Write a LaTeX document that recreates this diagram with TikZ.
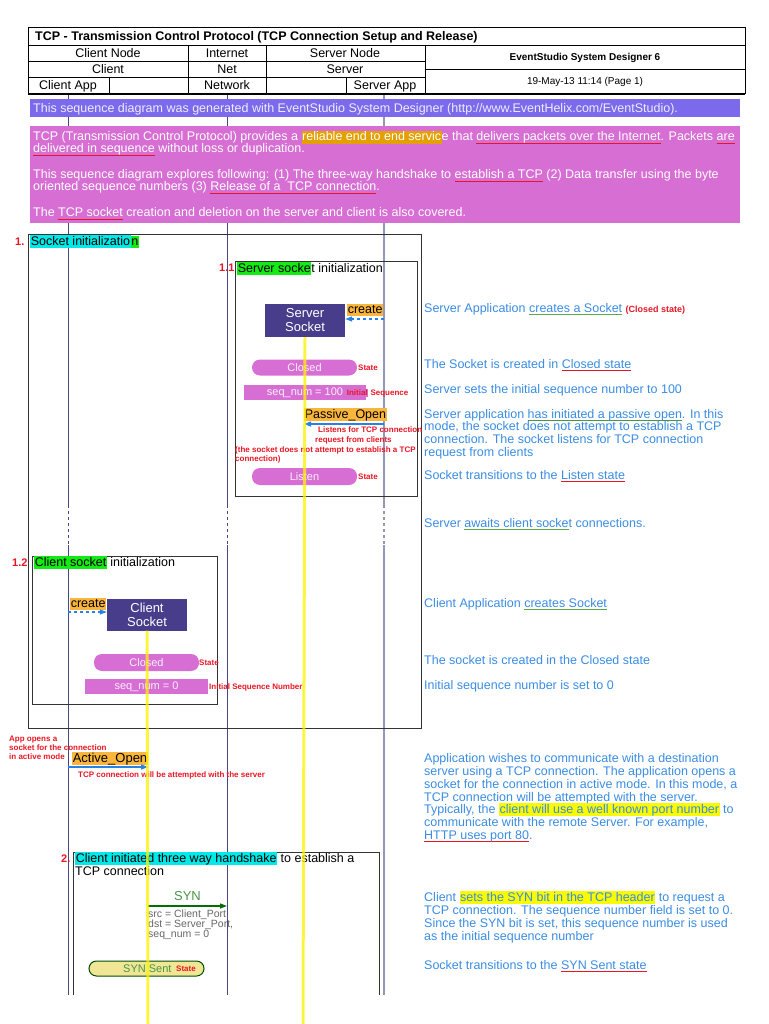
\documentclass[tikz,border=0pt]{standalone}
\usepackage{fontspec}
\setmainfont{Liberation Sans}
\usetikzlibrary{arrows.meta}
\definecolor{lane}{RGB}{70,70,130}
\definecolor{lanes}{RGB}{150,150,185}
\definecolor{band}{RGB}{123,106,236}
\definecolor{orch}{RGB}{215,110,212}
\definecolor{dslate}{RGB}{72,61,139}
\definecolor{tblue}{RGB}{58,140,228}
\definecolor{hor}{RGB}{250,182,60}
\definecolor{hor2}{RGB}{228,160,0}
\definecolor{hcy}{RGB}{0,232,232}
\definecolor{hgr}{RGB}{20,235,20}
\definecolor{hye}{RGB}{250,250,0}
\definecolor{rd}{RGB}{232,22,36}
\definecolor{ugr}{RGB}{90,170,70}
\definecolor{sgreen}{RGB}{0,110,0}
\definecolor{lgreen}{RGB}{70,150,70}
\definecolor{khaki}{RGB}{240,230,150}
\definecolor{abl}{RGB}{40,130,230}
\newcommand\hl[2]{{\setlength\fboxsep{0.6pt}\colorbox{#1}{\vphantom{Ag}#2}}}
\newcommand\ul[2]{\setbox0\hbox{#2}\rlap{\color{#1}\rule[-3pt]{\wd0}{1.4pt}}\box0\relax}
\newcommand\tl[5][txt]{\node[#1] (#2) at (#3,#4) {#5};}
\begin{document}
\begin{tikzpicture}[x=1pt,y=-1pt,
  every node/.style={inner sep=0pt,font=\fontsize{12.5}{14}\selectfont},
  txt/.style={anchor=base west},
  btxt/.style={anchor=base west,text=tblue},
  wtxt/.style={anchor=base west,text=white},
  rtxt/.style={anchor=base west,text=rd,font=\bfseries\fontsize{8}{9}\selectfont},
  hdr/.style={anchor=base},
  frame/.style={draw=black!80,line width=0.8pt},
  sock/.style={fill=dslate,text=white,align=center,font=\fontsize{13}{14}\selectfont},
  pill/.style={fill=orch,rounded corners=8pt,text=white!90!orch,font=\fontsize{11}{12}\selectfont},
  varbox/.style={fill=orch,text=white!90!orch,font=\fontsize{11}{12}\selectfont},
  arr/.style={-{Triangle[length=7pt,width=5pt]},abl,line width=1.3pt},
  darr/.style={arr,dashed},
  ylw/.style={yellow,line width=3pt,opacity=0.75}]
\useasboundingbox (0,0) rectangle (768,1024);
% header
\draw[line width=1pt] (28,28) rectangle (745,94);
\draw[line width=0.8pt] (28,45)--(745,45) (28,61)--(425,61) (28,77)--(425,77) (425,69)--(745,69)
  (188,45)--(188,94) (266,45)--(266,94) (425,45)--(425,94) (109,77)--(109,94) (346,77)--(346,94);
\draw[line width=1.6pt] (28,94)--(745,94);
\tl{title}{35}{41}{\bfseries TCP - Transmission Control Protocol (TCP Connection Setup and Release)}
\tl[hdr]{cn}{108}{58}{Client Node}
\tl[hdr]{cl}{108}{74}{Client}
\tl[hdr]{cap}{68}{90}{Client App}
\tl[hdr]{inet}{227}{58}{Internet}
\tl[hdr]{net}{227}{74}{Net}
\tl[hdr]{nw}{227}{90}{Network}
\tl[hdr]{sn}{345}{58}{Server Node}
\tl[hdr]{sv}{345}{74}{Server}
\tl[hdr]{sap}{385}{90}{Server App}
\node[font=\bfseries\fontsize{10}{11}\selectfont] (es) at (585,58) {EventStudio System Designer 6};
\node[font=\fontsize{10}{11}\selectfont] (dt) at (585,82) {19-May-13 11:14 (Page 1)};
% lifelines
\foreach \x/\c/\w in {68/lane/0.8pt,227/lane/0.8pt,384/lanes/1.4pt}{
  \draw[\c,line width=\w] (\x,95)--(\x,505) (\x,545)--(\x,995);
  \draw[\c,line width=\w,dashed] (\x,505)--(\x,545);}
% bands
\fill[band] (30,99) rectangle (740,117);
\tl[txt,text=white!88!band]{b1}{33}{113}{This sequence diagram was generated with EventStudio System Designer (http://www.EventHelix.com/EventStudio).}
\fill[orch] (30,126) rectangle (740,223);
\tl[wtxt]{m1}{33}{141}{TCP (Transmission Control Protocol) provides a \hl{hor2}{reliable end to end servic}e that \ul{rd}{delivers packets over the Internet}. Packets \ul{rd}{are}}
\tl[wtxt]{m2}{33}{153}{\ul{rd}{delivered in sequence} without loss or duplication.}
\tl[wtxt]{m3}{33}{179}{This sequence diagram explores following: (1) The three-way handshake to \ul{rd}{establish a TCP} (2) Data transfer using the byte}
\tl[wtxt]{m4}{33}{191}{oriented sequence numbers (3) \ul{rd}{Release of a\ \ TCP connection}.}
\tl[wtxt]{m5}{33}{217}{The \ul{rd}{TCP socket} creation and deletion on the server and client is also covered.}
% box 1
\draw[frame] (28,234) rectangle (421,728);
\tl[rtxt,font=\bfseries\fontsize{11}{12}\selectfont]{n1}{15}{245}{1.}
\tl{s1}{30}{245}{\hl{hcy}{Socket initializatio}\hl{hgr}{n}}
% box 1.1
\draw[frame] (235,261) rectangle (417,496);
\tl[rtxt,font=\bfseries\fontsize{11}{12}\selectfont]{n11}{219}{271}{1.1}
\tl{s11}{237}{272}{\hl{hgr}{Server socke}t initialization}
\node[sock,minimum width=80pt,minimum height=33pt] (ssock) at (305,320.5) {Server\\Socket};
\tl{scr}{347}{313}{\hl{hor}{create}}
\coordinate (scrA) at (384,319);
\draw[darr] (scrA) -- (ssock.east |- scrA);
\node[pill,minimum width=105pt,minimum height=16pt] (scl) at (304.5,367.5) {Closed};
\tl[rtxt]{scls}{358}{370}{State}
\node[varbox,minimum width=122pt,minimum height=15pt] (sseq) at (305,392.5) {seq\_num = 100};
\tl[rtxt]{sseqs}{346}{395}{\hl{orch}{Initial} Sequence}
\tl{spo}{304}{418}{\hl{hor}{Passive\_Open}}
\coordinate (spoA) at (384,424);
\coordinate (spoB) at (304,424);
\draw[arr] (spoA) -- (spoB);
\tl[rtxt]{sr1}{318}{432}{Listens for TCP connection}
\tl[rtxt]{sr2}{315}{442}{request from clients}
\tl[rtxt]{sr3}{235}{452}{(the socket does not attempt to establish a TCP}
\tl[rtxt]{sr4}{235}{461}{connection)}
\node[pill,minimum width=105pt,minimum height=17pt] (sli) at (304.5,476.5) {Listen};
\tl[rtxt]{slis}{358}{479}{State}
% right texts server
\tl[btxt]{r1}{424}{312}{Server Application \ul{ugr}{creates a Socket} \textcolor{rd}{\bfseries\fontsize{9}{10}\selectfont(Closed state)}}
\tl[btxt]{r2}{424}{368}{The Socket is created in \ul{rd}{Closed state}}
\tl[btxt]{r3}{424}{393}{Server sets the initial sequence number to 100}
\tl[btxt]{r4}{424}{418}{Server application \ul{lgreen}{has initiated a passive open}. In this}
\tl[btxt]{r5}{424}{430}{mode, the socket does not attempt to establish a TCP}
\tl[btxt]{r6}{424}{443}{connection. The socket listens for TCP connection}
\tl[btxt]{r7}{424}{456}{request from clients}
\tl[btxt]{r8}{424}{479}{Socket transitions to the \ul{rd}{Listen state}}
\tl[btxt]{r9}{424}{527}{Server \ul{ugr}{awaits client socke}t connections.}
% box 1.2
\draw[frame] (32,556) rectangle (217,704);
\tl[rtxt,font=\bfseries\fontsize{11}{12}\selectfont]{n12}{12}{566}{1.2}
\tl{s12}{34}{566}{\hl{hgr}{Client socket} initialization}
\node[sock,minimum width=80pt,minimum height=32pt] (csock) at (147,614.5) {Client\\Socket};
\tl{ccr}{70}{607}{\hl{hor}{create}}
\coordinate (ccrA) at (68,612);
\draw[darr] (ccrA) -- (csock.west |- ccrA);
\node[pill,minimum width=105pt,minimum height=17pt] (ccl) at (146.5,662.5) {Closed};
\tl[rtxt]{ccls}{199}{665}{State}
\node[varbox,minimum width=123pt,minimum height=15pt] (cseq) at (146.5,686.5) {seq\_num = 0};
\tl[rtxt]{cseqs}{209}{689}{Initial Sequence Number}
\tl[btxt]{c1}{424}{607}{Client Application \ul{ugr}{creates Socket}}
\tl[btxt]{c2}{424}{664}{The socket is created in the Closed state}
\tl[btxt]{c3}{424}{689}{Initial sequence number is set to 0}
% active open
\tl[rtxt]{ao1}{9}{741}{App opens a}
\tl[rtxt]{ao2}{9}{750}{socket for the connection}
\tl[rtxt]{ao3}{9}{759}{in active mode}
\tl[txt,font=\fontsize{13}{14}\selectfont]{ao}{72}{762}{\hl{hor}{Active\_Open}}
\coordinate (aoA) at (68,767);
\coordinate (aoB) at (148,767);
\draw[arr] (aoA) -- (aoB);
\tl[rtxt]{ao4}{78}{777}{TCP connection will be attempted with the server}
\tl[btxt]{a1}{424}{762}{Application wishes to communicate with a destination}
\tl[btxt]{a2}{424}{775}{server using a TCP connection. The application opens a}
\tl[btxt]{a3}{424}{788}{socket for the connection in active mode. In this mode, a}
\tl[btxt]{a4}{424}{801}{TCP connection will be attempted with the server.}
\tl[btxt]{a5}{424}{813}{Typically, the \hl{hye}{client will use a well known port number} to}
\tl[btxt]{a6}{424}{826}{communicate with the remote Server. For example,}
\tl[btxt]{a7}{424}{839}{\ul{rd}{HTTP uses port 80}.}
% box 2
\draw[frame] (73,995)--(73,852)--(379,852)--(379,995);
\tl[rtxt,font=\bfseries\fontsize{11}{12}\selectfont]{n2}{61}{862}{2.}
\tl{s2}{75}{862}{\hl{hcy}{Client initiated three way handshake} to establish a}
\tl{s2b}{75}{875}{TCP connection}
\coordinate (synA) at (148,906);
\coordinate (synB) at (227,906);
\draw[-{Triangle[length=7pt,width=5pt]},sgreen,line width=1.3pt] (synA) -- node[above=5pt,text=lgreen,font=\fontsize{13}{14}\selectfont] (synl) {SYN} (synB);
\tl[txt,text=black!60,font=\fontsize{10.5}{11}\selectfont]{p1}{148}{917}{src = Client\_Port,}
\tl[txt,text=black!60,font=\fontsize{10.5}{11}\selectfont]{p2}{148}{927}{dst = Server\_Port,}
\tl[txt,text=black!60,font=\fontsize{10.5}{11}\selectfont]{p3}{148}{937}{seq\_num = 0}
\node[fill=khaki,draw=sgreen!70!black,line width=1pt,rounded corners=7.5pt,minimum width=115pt,minimum height=15pt] (syns) at (146.5,968.5) {};
\tl[txt,text=lgreen,font=\fontsize{11}{12}\selectfont]{synst}{123}{972}{SYN Sent}
\tl[rtxt]{synss}{176}{971}{State}
\tl[btxt]{y1}{424}{901}{Client \hl{hye}{sets the SYN bit in the TCP header} to request a}
\tl[btxt]{y2}{424}{914}{TCP connection. The sequence number field is set to 0.}
\tl[btxt]{y3}{424}{927}{Since the SYN bit is set, this sequence number is used}
\tl[btxt]{y4}{424}{940}{as the initial sequence number}
\tl[btxt]{y5}{424}{969}{Socket transitions to the \ul{rd}{SYN Sent state}}
% yellow activation lines
\draw[ylw] (ssock.south) -- (303,1024);
\draw[ylw] (csock.south) -- (148,1024);
\end{tikzpicture}
\end{document}
